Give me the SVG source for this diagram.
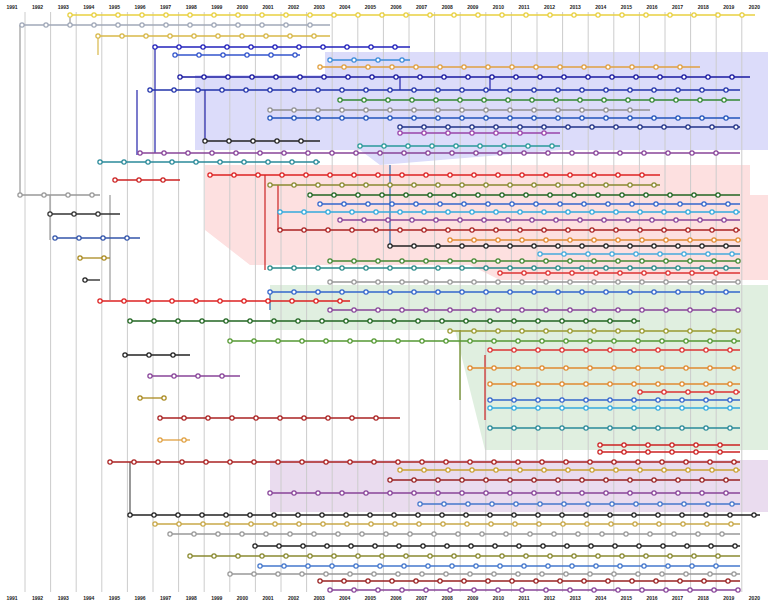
<svg xmlns="http://www.w3.org/2000/svg" xmlns:xlink="http://www.w3.org/1999/xlink" width="768" height="605" viewBox="0 0 768 605">
<style>
text{font-family:"Liberation Sans",Arial,sans-serif;font-size:5px;font-weight:bold;fill:#222;text-anchor:middle}
.grid line{stroke:#ccc;stroke-width:1}
g.s{fill:none;stroke-width:1.3}
.o{stroke-width:5.5;stroke-dasharray:0 24;stroke-linecap:round}
.i{stroke:#fff;stroke-width:3;stroke-dasharray:0 24;stroke-linecap:round}
#conn path{fill:none;stroke-width:1.2}
</style>
<rect width="768" height="605" fill="#fff"/>
<g id="shades">
<path d="M325 52H768V150H560L380 165L360 150H195V75H325Z" fill="#dcdcfa"/>
<path d="M205 165H750V195H768V280H500L470 265H250L205 230Z" fill="#fde0e0"/>
<path d="M270 285H768V450H485L455 330H270Z" fill="#e0efe0"/>
<path d="M270 460H768V512H270Z" fill="#eadcef"/>
</g>
<g class="grid">
<line x1="25" y1="12" x2="25" y2="592"/><line x1="50.6" y1="12" x2="50.6" y2="592"/><line x1="76.2" y1="12" x2="76.2" y2="592"/><line x1="101.8" y1="12" x2="101.8" y2="592"/><line x1="127.4" y1="12" x2="127.4" y2="592"/><line x1="153" y1="12" x2="153" y2="592"/><line x1="178.6" y1="12" x2="178.6" y2="592"/><line x1="204.2" y1="12" x2="204.2" y2="592"/><line x1="229.8" y1="12" x2="229.8" y2="592"/><line x1="255.4" y1="12" x2="255.4" y2="592"/><line x1="281" y1="12" x2="281" y2="592"/><line x1="306.6" y1="12" x2="306.6" y2="592"/><line x1="332.2" y1="12" x2="332.2" y2="592"/><line x1="357.8" y1="12" x2="357.8" y2="592"/><line x1="383.4" y1="12" x2="383.4" y2="592"/><line x1="409" y1="12" x2="409" y2="592"/><line x1="434.6" y1="12" x2="434.6" y2="592"/><line x1="460.2" y1="12" x2="460.2" y2="592"/><line x1="485.8" y1="12" x2="485.8" y2="592"/><line x1="511.4" y1="12" x2="511.4" y2="592"/><line x1="537" y1="12" x2="537" y2="592"/><line x1="562.6" y1="12" x2="562.6" y2="592"/><line x1="588.2" y1="12" x2="588.2" y2="592"/><line x1="613.8" y1="12" x2="613.8" y2="592"/><line x1="639.4" y1="12" x2="639.4" y2="592"/><line x1="665" y1="12" x2="665" y2="592"/><line x1="690.6" y1="12" x2="690.6" y2="592"/><line x1="716.2" y1="12" x2="716.2" y2="592"/><line x1="741.8" y1="12" x2="741.8" y2="592"/>
</g>
<g id="years-top">
<text x="12" y="9">1991</text><text x="37.6" y="9">1992</text><text x="63.2" y="9">1993</text><text x="88.8" y="9">1994</text><text x="114.4" y="9">1995</text><text x="140" y="9">1996</text><text x="165.6" y="9">1997</text><text x="191.2" y="9">1998</text><text x="216.8" y="9">1999</text><text x="242.4" y="9">2000</text><text x="268" y="9">2001</text><text x="293.6" y="9">2002</text><text x="319.2" y="9">2003</text><text x="344.8" y="9">2004</text><text x="370.4" y="9">2005</text><text x="396" y="9">2006</text><text x="421.6" y="9">2007</text><text x="447.2" y="9">2008</text><text x="472.8" y="9">2009</text><text x="498.4" y="9">2010</text><text x="524" y="9">2011</text><text x="549.6" y="9">2012</text><text x="575.2" y="9">2013</text><text x="600.8" y="9">2014</text><text x="626.4" y="9">2015</text><text x="652" y="9">2016</text><text x="677.6" y="9">2017</text><text x="703.2" y="9">2018</text><text x="728.8" y="9">2019</text><text x="754.4" y="9">2020</text>
</g>
<g id="years-bottom">
<text x="12" y="600">1991</text><text x="37.6" y="600">1992</text><text x="63.2" y="600">1993</text><text x="88.8" y="600">1994</text><text x="114.4" y="600">1995</text><text x="140" y="600">1996</text><text x="165.6" y="600">1997</text><text x="191.2" y="600">1998</text><text x="216.8" y="600">1999</text><text x="242.4" y="600">2000</text><text x="268" y="600">2001</text><text x="293.6" y="600">2002</text><text x="319.2" y="600">2003</text><text x="344.8" y="600">2004</text><text x="370.4" y="600">2005</text><text x="396" y="600">2006</text><text x="421.6" y="600">2007</text><text x="447.2" y="600">2008</text><text x="472.8" y="600">2009</text><text x="498.4" y="600">2010</text><text x="524" y="600">2011</text><text x="549.6" y="600">2012</text><text x="575.2" y="600">2013</text><text x="600.8" y="600">2014</text><text x="626.4" y="600">2015</text><text x="652" y="600">2016</text><text x="677.6" y="600">2017</text><text x="703.2" y="600">2018</text><text x="728.8" y="600">2019</text><text x="754.4" y="600">2020</text>
</g>
<g id="conn">
<path d="M20 25V195" stroke="#999"/>
<path d="M155 47V153" stroke="#2222aa"/>
<path d="M137 90V155" stroke="#2222aa"/>
<path d="M205 90V142" stroke="#2222aa"/>
<path d="M265 175V270" stroke="#c22"/>
<path d="M278 185V230" stroke="#c22"/>
<path d="M390 165V245" stroke="#2a6ab0"/>
<path d="M70 15V25" stroke="#999"/>
<path d="M98 36V55" stroke="#d8b848"/>
<path d="M50 195V240" stroke="#999"/>
<path d="M110 195V300" stroke="#999"/>
<path d="M400 77V90" stroke="#2222aa"/>
<path d="M490 77V90" stroke="#2222aa"/>
<path d="M485 355V420" stroke="#c22"/>
<path d="M130 462V515" stroke="#555"/>
<path d="M270 292V310" stroke="#2a6ab0"/>
<path d="M460 330V400" stroke="#6a8a20"/>
</g>
<g id="series">
<g class="s" id="n1" stroke="#e8d040"><path id="p1" d="M70 15H755"/><use href="#p1" class="o"/><use href="#p1" class="i"/></g>
<g class="s" id="n2" stroke="#a0a8b8"><path id="p2" d="M22 25H330"/><use href="#p2" class="o"/><use href="#p2" class="i"/></g>
<g class="s" id="n3" stroke="#d8b848"><path id="p3" d="M98 36H330"/><use href="#p3" class="o"/><use href="#p3" class="i"/></g>
<g class="s" id="n4" stroke="#2222bb"><path id="p4" d="M155 47H410"/><use href="#p4" class="o"/><use href="#p4" class="i"/></g>
<g class="s" id="n5" stroke="#3355cc"><path id="p5" d="M175 55H300"/><use href="#p5" class="o"/><use href="#p5" class="i"/></g>
<g class="s" id="n6" stroke="#3b8bd8"><path id="p6" d="M330 60H410"/><use href="#p6" class="o"/><use href="#p6" class="i"/></g>
<g class="s" id="n7" stroke="#e0a040"><path id="p7" d="M320 67H700"/><use href="#p7" class="o"/><use href="#p7" class="i"/></g>
<g class="s" id="n8" stroke="#1a1aa0"><path id="p8" d="M180 77H750"/><use href="#p8" class="o"/><use href="#p8" class="i"/></g>
<g class="s" id="n9" stroke="#2233aa"><path id="p9" d="M150 90H740"/><use href="#p9" class="o"/><use href="#p9" class="i"/></g>
<g class="s" id="n10" stroke="#338833"><path id="p10" d="M340 100H740"/><use href="#p10" class="o"/><use href="#p10" class="i"/></g>
<g class="s" id="n11" stroke="#909090"><path id="p11" d="M270 110H650"/><use href="#p11" class="o"/><use href="#p11" class="i"/></g>
<g class="s" id="n12" stroke="#2255bb"><path id="p12" d="M270 118H740"/><use href="#p12" class="o"/><use href="#p12" class="i"/></g>
<g class="s" id="n13" stroke="#223388"><path id="p13" d="M400 127H740"/><use href="#p13" class="o"/><use href="#p13" class="i"/></g>
<g class="s" id="n14" stroke="#9944aa"><path id="p14" d="M400 133H560"/><use href="#p14" class="o"/><use href="#p14" class="i"/></g>
<g class="s" id="n15" stroke="#222222"><path id="p15" d="M205 141H320"/><use href="#p15" class="o"/><use href="#p15" class="i"/></g>
<g class="s" id="n16" stroke="#2a9a9a"><path id="p16" d="M360 146H560"/><use href="#p16" class="o"/><use href="#p16" class="i"/></g>
<g class="s" id="n17" stroke="#884499"><path id="p17" d="M140 153H740"/><use href="#p17" class="o"/><use href="#p17" class="i"/></g>
<g class="s" id="n18" stroke="#2a8a9a"><path id="p18" d="M100 162H320"/><use href="#p18" class="o"/><use href="#p18" class="i"/></g>
<g class="s" id="n19" stroke="#cc2222"><path id="p19" d="M115 180H180"/><use href="#p19" class="o"/><use href="#p19" class="i"/></g>
<g class="s" id="n20" stroke="#999999"><path id="p20" d="M20 195H100"/><use href="#p20" class="o"/><use href="#p20" class="i"/></g>
<g class="s" id="n21" stroke="#dd2222"><path id="p21" d="M210 175H660"/><use href="#p21" class="o"/><use href="#p21" class="i"/></g>
<g class="s" id="n22" stroke="#8a8a30"><path id="p22" d="M270 185H660"/><use href="#p22" class="o"/><use href="#p22" class="i"/></g>
<g class="s" id="n23" stroke="#226622"><path id="p23" d="M310 195H740"/><use href="#p23" class="o"/><use href="#p23" class="i"/></g>
<g class="s" id="n24" stroke="#3366cc"><path id="p24" d="M320 204H740"/><use href="#p24" class="o"/><use href="#p24" class="i"/></g>
<g class="s" id="n25" stroke="#33aadd"><path id="p25" d="M280 212H740"/><use href="#p25" class="o"/><use href="#p25" class="i"/></g>
<g class="s" id="n26" stroke="#333333"><path id="p26" d="M50 214H120"/><use href="#p26" class="o"/><use href="#p26" class="i"/></g>
<g class="s" id="n27" stroke="#884499"><path id="p27" d="M340 220H740"/><use href="#p27" class="o"/><use href="#p27" class="i"/></g>
<g class="s" id="n28" stroke="#aa2222"><path id="p28" d="M280 230H740"/><use href="#p28" class="o"/><use href="#p28" class="i"/></g>
<g class="s" id="n29" stroke="#3355aa"><path id="p29" d="M55 238H140"/><use href="#p29" class="o"/><use href="#p29" class="i"/></g>
<g class="s" id="n30" stroke="#e08a30"><path id="p30" d="M450 240H740"/><use href="#p30" class="o"/><use href="#p30" class="i"/></g>
<g class="s" id="n31" stroke="#222222"><path id="p31" d="M390 246H740"/><use href="#p31" class="o"/><use href="#p31" class="i"/></g>
<g class="s" id="n32" stroke="#44aadd"><path id="p32" d="M540 254H740"/><use href="#p32" class="o"/><use href="#p32" class="i"/></g>
<g class="s" id="n33" stroke="#aa8a20"><path id="p33" d="M80 258H110"/><use href="#p33" class="o"/><use href="#p33" class="i"/></g>
<g class="s" id="n34" stroke="#448833"><path id="p34" d="M330 261H740"/><use href="#p34" class="o"/><use href="#p34" class="i"/></g>
<g class="s" id="n35" stroke="#2a8a8a"><path id="p35" d="M270 268H740"/><use href="#p35" class="o"/><use href="#p35" class="i"/></g>
<g class="s" id="n36" stroke="#dd3333"><path id="p36" d="M500 273H740"/><use href="#p36" class="o"/><use href="#p36" class="i"/></g>
<g class="s" id="n37" stroke="#222222"><path id="p37" d="M85 280H100"/><use href="#p37" class="o"/><use href="#p37" class="i"/></g>
<g class="s" id="n38" stroke="#999999"><path id="p38" d="M330 282H740"/><use href="#p38" class="o"/><use href="#p38" class="i"/></g>
<g class="s" id="n39" stroke="#3366cc"><path id="p39" d="M270 292H740"/><use href="#p39" class="o"/><use href="#p39" class="i"/></g>
<g class="s" id="n40" stroke="#dd2222"><path id="p40" d="M100 301H350"/><use href="#p40" class="o"/><use href="#p40" class="i"/></g>
<g class="s" id="n41" stroke="#884499"><path id="p41" d="M330 310H740"/><use href="#p41" class="o"/><use href="#p41" class="i"/></g>
<g class="s" id="n42" stroke="#226622"><path id="p42" d="M130 321H640"/><use href="#p42" class="o"/><use href="#p42" class="i"/></g>
<g class="s" id="n43" stroke="#9a9a30"><path id="p43" d="M450 331H740"/><use href="#p43" class="o"/><use href="#p43" class="i"/></g>
<g class="s" id="n44" stroke="#559933"><path id="p44" d="M230 341H740"/><use href="#p44" class="o"/><use href="#p44" class="i"/></g>
<g class="s" id="n45" stroke="#dd3333"><path id="p45" d="M490 350H740"/><use href="#p45" class="o"/><use href="#p45" class="i"/></g>
<g class="s" id="n46" stroke="#222222"><path id="p46" d="M125 355H190"/><use href="#p46" class="o"/><use href="#p46" class="i"/></g>
<g class="s" id="n47" stroke="#e08a30"><path id="p47" d="M470 368H740"/><use href="#p47" class="o"/><use href="#p47" class="i"/></g>
<g class="s" id="n48" stroke="#884499"><path id="p48" d="M150 376H240"/><use href="#p48" class="o"/><use href="#p48" class="i"/></g>
<g class="s" id="n49" stroke="#e08a30"><path id="p49" d="M490 384H740"/><use href="#p49" class="o"/><use href="#p49" class="i"/></g>
<g class="s" id="n50" stroke="#dd3333"><path id="p50" d="M640 392H740"/><use href="#p50" class="o"/><use href="#p50" class="i"/></g>
<g class="s" id="n51" stroke="#aa8a20"><path id="p51" d="M140 398H165"/><use href="#p51" class="o"/><use href="#p51" class="i"/></g>
<g class="s" id="n52" stroke="#3366cc"><path id="p52" d="M490 400H740"/><use href="#p52" class="o"/><use href="#p52" class="i"/></g>
<g class="s" id="n53" stroke="#33aadd"><path id="p53" d="M490 408H740"/><use href="#p53" class="o"/><use href="#p53" class="i"/></g>
<g class="s" id="n54" stroke="#aa2222"><path id="p54" d="M160 418H400"/><use href="#p54" class="o"/><use href="#p54" class="i"/></g>
<g class="s" id="n55" stroke="#2a8a9a"><path id="p55" d="M490 428H740"/><use href="#p55" class="o"/><use href="#p55" class="i"/></g>
<g class="s" id="n56" stroke="#e0a040"><path id="p56" d="M160 440H190"/><use href="#p56" class="o"/><use href="#p56" class="i"/></g>
<g class="s" id="n57" stroke="#cc2222"><path id="p57" d="M600 445H740"/><use href="#p57" class="o"/><use href="#p57" class="i"/></g>
<g class="s" id="n58" stroke="#cc2222"><path id="p58" d="M600 452H740"/><use href="#p58" class="o"/><use href="#p58" class="i"/></g>
<g class="s" id="n59" stroke="#aa2222"><path id="p59" d="M110 462H740"/><use href="#p59" class="o"/><use href="#p59" class="i"/></g>
<g class="s" id="n60" stroke="#c8a030"><path id="p60" d="M400 470H740"/><use href="#p60" class="o"/><use href="#p60" class="i"/></g>
<g class="s" id="n61" stroke="#992222"><path id="p61" d="M390 480H740"/><use href="#p61" class="o"/><use href="#p61" class="i"/></g>
<g class="s" id="n62" stroke="#884499"><path id="p62" d="M270 493H740"/><use href="#p62" class="o"/><use href="#p62" class="i"/></g>
<g class="s" id="n63" stroke="#4477cc"><path id="p63" d="M420 504H740"/><use href="#p63" class="o"/><use href="#p63" class="i"/></g>
<g class="s" id="n64" stroke="#222222"><path id="p64" d="M130 515H760"/><use href="#p64" class="o"/><use href="#p64" class="i"/></g>
<g class="s" id="n65" stroke="#c8a848"><path id="p65" d="M155 524H740"/><use href="#p65" class="o"/><use href="#p65" class="i"/></g>
<g class="s" id="n66" stroke="#999999"><path id="p66" d="M170 534H740"/><use href="#p66" class="o"/><use href="#p66" class="i"/></g>
<g class="s" id="n67" stroke="#222222"><path id="p67" d="M255 546H740"/><use href="#p67" class="o"/><use href="#p67" class="i"/></g>
<g class="s" id="n68" stroke="#8a8a30"><path id="p68" d="M190 556H740"/><use href="#p68" class="o"/><use href="#p68" class="i"/></g>
<g class="s" id="n69" stroke="#4477cc"><path id="p69" d="M260 566H740"/><use href="#p69" class="o"/><use href="#p69" class="i"/></g>
<g class="s" id="n70" stroke="#999999"><path id="p70" d="M230 574H740"/><use href="#p70" class="o"/><use href="#p70" class="i"/></g>
<g class="s" id="n71" stroke="#992222"><path id="p71" d="M320 581H740"/><use href="#p71" class="o"/><use href="#p71" class="i"/></g>
<g class="s" id="n72" stroke="#884499"><path id="p72" d="M330 590H740"/><use href="#p72" class="o"/><use href="#p72" class="i"/></g>
</g>
</svg>
